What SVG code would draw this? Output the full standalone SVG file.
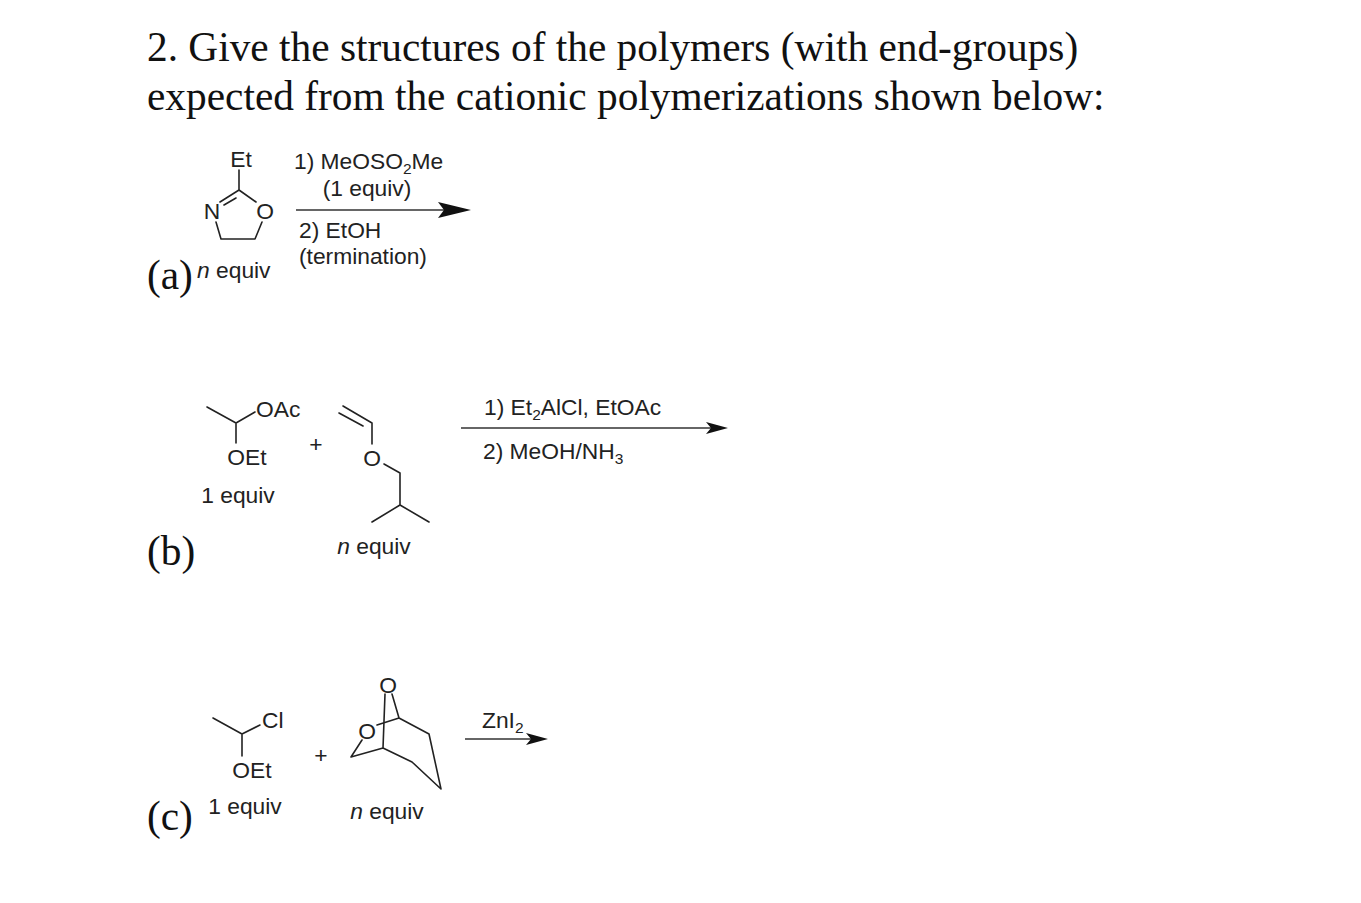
<svg xmlns="http://www.w3.org/2000/svg" width="1361" height="903" viewBox="0 0 1361 903">
<style>
.t{font-family:"Liberation Serif","Times New Roman",serif;font-size:41.35px;fill:#111}
.l{font-family:"Liberation Sans",Arial,sans-serif;font-size:22.8px;fill:#222}
.s{font-size:15.5px}
.b{fill:none;stroke:#222;stroke-width:1.6;stroke-linecap:round;stroke-linejoin:round}
.a{fill:none;stroke:#333;stroke-width:1.6}
.h{fill:#111}
</style>
<rect width="1361" height="903" fill="#fff"/>
<g id="title">
<text class="t" x="147" y="61">2. Give the structures of the polymers (with end-groups)</text>
<text class="t" x="147" y="110">expected from the cationic polymerizations shown below:</text>
</g>
<g id="part-a">
<text class="t" x="147" y="289">(a)</text>
<g id="oxazoline">
<path class="b" d="M239 170V190L220 202M236 198L224 205M239 190L256 202M216 222L221 239H255L262 222"/>
<text class="l" x="241" y="167" text-anchor="middle">Et</text>
<text class="l" x="212" y="219" text-anchor="middle">N</text>
<text class="l" x="265" y="219" text-anchor="middle">O</text>
</g>
<text class="l" x="197" y="278"><tspan font-style="italic">n</tspan> equiv</text>
<g id="reagents-a">
<text class="l" x="294" y="169">1) MeOSO<tspan class="s" dy="5">2</tspan><tspan dy="-5">Me</tspan></text>
<text class="l" x="367" y="196" text-anchor="middle">(1 equiv)</text>
<text class="l" x="299" y="238">2) EtOH</text>
<text class="l" x="299" y="264">(termination)</text>
</g>
</g>
<g id="part-b">
<text class="t" x="147" y="565">(b)</text>
<g id="acetal-b">
<path class="b" d="M207 407L236 423L255 412M236 423V443"/>
<text class="l" x="256" y="417">OAc</text>
<text class="l" x="247" y="465" text-anchor="middle">OEt</text>
<text class="l" x="238" y="503" text-anchor="middle">1 equiv</text>
</g>
<text class="l" x="316" y="452" text-anchor="middle">+</text>
<g id="vinyl-ether">
<path class="b" d="M343 406L372 423V444M339 413L363 426M384 464L400 473V505L372 522M400 505L429 522"/>
<text class="l" x="372" y="466" text-anchor="middle">O</text>
<text class="l" x="374" y="554" text-anchor="middle"><tspan font-style="italic">n</tspan> equiv</text>
</g>
<g id="reagents-b">
<text class="l" x="484" y="415">1) Et<tspan class="s" dy="5">2</tspan><tspan dy="-5">AlCl, EtOAc</tspan></text>
<text class="l" x="483" y="459">2) MeOH/NH<tspan class="s" dy="5">3</tspan></text>
</g>
</g>
<g id="part-c">
<text class="t" x="147" y="830">(c)</text>
<g id="acetal-c">
<path class="b" d="M213 718L242 734L260 725M242 734V756"/>
<text class="l" x="262" y="728">Cl</text>
<text class="l" x="252" y="778" text-anchor="middle">OEt</text>
<text class="l" x="245" y="814" text-anchor="middle">1 equiv</text>
</g>
<text class="l" x="321" y="763" text-anchor="middle">+</text>
<g id="bicyclic">
<path class="b" d="M385 694L383 748M392 694L399 718L377 725M399 718L429 734L441 789L412 762L383 748L351 757L362 740"/>
<text class="l" x="388" y="693" text-anchor="middle">O</text>
<text class="l" x="367" y="739" text-anchor="middle">O</text>
<text class="l" x="387" y="819" text-anchor="middle"><tspan font-style="italic">n</tspan> equiv</text>
</g>
<text id="reagent-c" class="l" x="482" y="728">ZnI<tspan class="s" dy="5">2</tspan></text>
</g>
<g id="connectors">
<path class="a" d="M296 210H450"/><path class="h" d="M471 210L438 202L444 210L438 218Z"/>
<path class="a" d="M461 428H712"/><path class="h" d="M728 428L706 422L711 428L706 434Z"/>
<path class="a" d="M465 739H532"/><path class="h" d="M548 739L526 733L531 739L526 745Z"/>
</g>
</svg>
